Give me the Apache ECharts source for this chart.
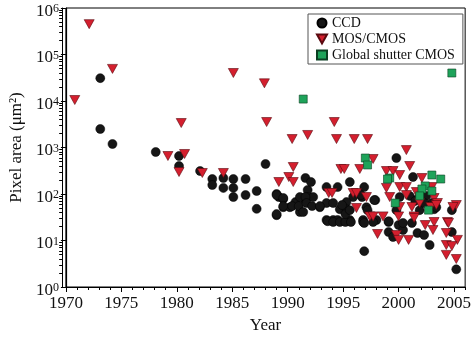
<!DOCTYPE html>
<html><head><meta charset="utf-8">
<script src="https://cdn.jsdelivr.net/npm/echarts@6/dist/echarts.min.js"></script>
<style>html,body{margin:0;padding:0;background:#fff}#c{width:474px;height:349px}</style>
</head><body><div id="c"></div>
<script>
// [year, pixel area (um^2)]
const ccd = [
 [1973.1,31000],[1973.1,2500],[1974.2,1190],[1978.1,800],[1980.2,656],[1980.2,400],[1982.1,312],
 [1983.2,210],[1983.2,156],[1984.2,221],[1984.2,135],[1985.1,210],[1985.1,135],[1985.1,86],
 [1986.2,210],[1986.2,95],[1987.2,116],[1987.2,48],[1988.0,442],[1989.0,100],[1989.0,35],
 [1989.2,86],[1989.6,78],[1989.6,52],[1990.2,52],[1990.7,67],[1991.1,41],[1991.6,221],[1991.5,78],
 [1991.8,122],[1992.1,181],[1993.5,141],[1994.5,141],[1995.6,181],[1996.9,141],[1999.8,594],
 [2001.3,232],[2001.7,78],[2002.5,91],[1997.9,74],[1996.7,86],[1995.9,86],[1995.3,67],[1997.1,52],
 [2000.1,86],[2001.0,91],[2003.0,64],[2003.2,47],[1999.8,45],[1991.1,86],[1991.8,86],[1992.3,86],
 [1992.9,52],[1993.5,64],[1994.1,64],[1994.7,47],[1995.3,47],[1993.5,27.6],[1994.1,27.6],
 [1994.5,27.6],[1995.6,27.6],[1996.8,27.6],[1998.0,27.6],[1999.1,25],[2000.0,21.5],
 [1989.0,95],[1989.6,82],[1989.6,55],[1990.4,55],[1991.0,55],[1991.6,86],[1991.7,64],[1992.2,55],
 [1992.9,55],[1991.4,41],[1989.0,37],[1993.6,26],[1994.1,25],[1994.7,25],[1995.2,25],[1995.7,25],
 [1996.8,25],[1996.9,23.8],[1994.9,58],[1995.2,37],[1995.6,45],[1996.6,95],[1997.8,74],
 [1997.2,45],[1997.7,25],[1999.1,26],[1999.1,15.2],[1999.5,11.9],[2000.4,16.8],[2000.4,23.8],
 [2001.5,71],[2001.9,45],[2001.7,14.5],[2002.3,13.1],[2002.8,8.0],[1996.9,5.9],[2003.4,52],
 [2004.8,15.2],[2004.8,45],[2005.2,2.4],[2001.2,23.8],[2002.3,64]
];
const mosCmos = [
 [1970.8,10500],[1972.1,450000],[1974.2,49000],[1980.4,3360],[1979.2,656],[1980.7,725],[1980.2,297],
 [1982.3,283],[1984.2,283],[1985.1,40000],[1987.9,24000],[1988.1,3530],[1990.4,1520],[1991.8,1860],
 [1990.5,381],[1989.2,181],[1990.1,232],[1990.5,181],[1994.2,3530],[1994.4,1520],[1996.0,1520],
 [1997.2,1520],[2000.7,880],[1997.7,566],[1994.8,345],[1995.1,345],[1996.5,345],[2001.0,400],
 [1998.9,312],[1999.5,312],[2000.1,256],[2002.1,221],[1998.9,135],[2000.1,141],[2000.7,141],
 [2001.6,110],[1993.7,105],[1994.0,105],[1995.9,105],[1996.2,105],[1997.1,86],[1999.2,86],
 [2000.7,95],[2003.2,82],[2003.5,64],[2001.9,64],[2002.9,52.5],[2005.2,58],[2004.9,52.5],
 [1996.2,50],[2000.1,52.5],[2001.2,52.5],[1997.4,33],[1997.7,33],[1998.6,33],[2000.0,33],
 [2001.4,33],[2003.2,25],[2004.4,25],[2002.4,21.5],[1998.1,13.8],[1999.8,13.1],[2000.0,10.3],
 [2000.9,10.3],[2003.1,16.8],[2004.5,23.8],[2004.3,14.5],[2005.3,10.3],[2004.3,8.0],[2004.8,7.6],
 [2004.3,4.9],[2005.2,4.0],[2003.4,58],[2003.0,141],[2001.4,30.5]
];
const globalShutter = [
 [1991.4,11000],[2004.8,40000],[1997.0,594],[1997.2,421],[1999.2,221],[1999.0,210],[2003.0,256],
 [2003.8,210],[2002.4,149],[2002.1,128],[2003.0,116],[2001.9,91],[1999.7,64],[2002.7,45]
];
const xTickLabels = [1970,1975,1980,1985,1990,1995,2000,2005];
const yDecades = [1,10,100,1000,10000,100000,1000000];
const seriesNames = ['CCD','MOS/CMOS','Global shutter CMOS'];

const FONT = '"Liberation Serif", "DejaVu Serif", serif';
const minorY = [];
for (let d = 0; d < 6; d++) for (let k = 2; k <= 9; k++) minorY.push(d + Math.log10(k));

const W = 474, H = 349, GL = 64, GR = 7, GT = 8, GB = 62;
const chart = echarts.init(document.getElementById('c'), null, {renderer:'canvas'});
chart.setOption({
  animation:false,
  backgroundColor:'#fff',
  textStyle:{fontFamily:FONT},
  grid:{left:GL,right:GR,top:GT,bottom:GB,show:true,borderColor:'#000',borderWidth:1,backgroundColor:'transparent'},
  legend:{
    orient:'vertical', left:308, top:14, data:seriesNames,
    itemWidth:10, itemHeight:9, itemGap:0, itemTextGap:6,
    padding:[1,8,1,8], borderColor:'#555', borderWidth:1, backgroundColor:'#fff',
    textStyle:{fontFamily:FONT,fontSize:14,color:'#111',lineHeight:16}
  },
  xAxis:[{
    type:'value', min:1970, max:2006, name:'Year', nameLocation:'middle', nameGap:26,
    nameTextStyle:{fontFamily:FONT,fontSize:17,color:'#111'},
    axisLine:{show:true,onZero:false,lineStyle:{color:'#000',width:1.2}},
    axisTick:{show:true,customValues:xTickLabels,length:5,lineStyle:{color:'#000'}},
    axisLabel:{show:true,customValues:xTickLabels,fontFamily:FONT,fontSize:17,color:'#111',margin:8,
      formatter:function(v){ return String(Math.round(v)); }},
    splitLine:{show:false}
  },{
    type:'value', min:1970, max:2006, interval:1, position:'top', offset:-(H-GT-GB),
    axisLine:{show:true,onZero:false,lineStyle:{color:'#000',width:1}},
    axisLabel:{show:false}, splitLine:{show:false},
    axisTick:{show:true,inside:true,length:3,lineStyle:{color:'#000'}}
  }],
  yAxis:[{
    type:'log', logBase:10, min:1, max:1000000, splitNumber:6,
    name:'Pixel area (μm²)', nameLocation:'middle', nameGap:38,
    nameTextStyle:{fontFamily:FONT,fontSize:17,color:'#111'},
    axisLine:{show:true,onZero:false,lineStyle:{color:'#000',width:1.2}},
    axisTick:{show:true,length:5,lineStyle:{color:'#000'}},
    axisLabel:{
      show:true, margin:7, padding:[7,0,0,0],
      formatter:function(v){ return '{b|10}{s|' + Math.round(Math.log10(v)) + '}'; },
      rich:{
        b:{fontFamily:FONT,fontSize:17,color:'#111',verticalAlign:'bottom',lineHeight:17},
        s:{fontFamily:FONT,fontSize:12,color:'#111',verticalAlign:'top',lineHeight:12,padding:[0,0,10,0]}
      }
    },
    splitLine:{show:false}
  },{
    type:'value', min:0, max:6, position:'right', offset:-(W-GL-GR),
    axisLine:{show:true,onZero:false,lineStyle:{color:'#000',width:1}},
    axisLabel:{show:false}, splitLine:{show:false},
    axisTick:{show:true,inside:true,customValues:minorY,length:3,lineStyle:{color:'#000'}}
  }],
  series:[{
    name:seriesNames[0], type:'scatter', xAxisIndex:0, yAxisIndex:0, data:ccd,
    symbol:'circle', symbolSize:9,
    itemStyle:{color:'#161616',borderColor:'#000',borderWidth:0.5,opacity:1}
  },{
    name:seriesNames[1], type:'scatter', xAxisIndex:0, yAxisIndex:0, data:mosCmos,
    symbol:'path://M0,0 L10,0 L5,9 Z', symbolSize:[10,9],
    itemStyle:{color:'#d41f2e',borderColor:'#5a0a10',borderWidth:0.6,opacity:1}
  },{
    name:seriesNames[2], type:'scatter', xAxisIndex:0, yAxisIndex:0, data:globalShutter,
    symbol:'rect', symbolSize:8,
    itemStyle:{color:'#1ea35a',borderColor:'#0b3f22',borderWidth:0.6,opacity:1}
  },{
    name:'_axes', type:'scatter', xAxisIndex:1, yAxisIndex:1, data:[], silent:true
  }]
});
</script>
</body></html>
